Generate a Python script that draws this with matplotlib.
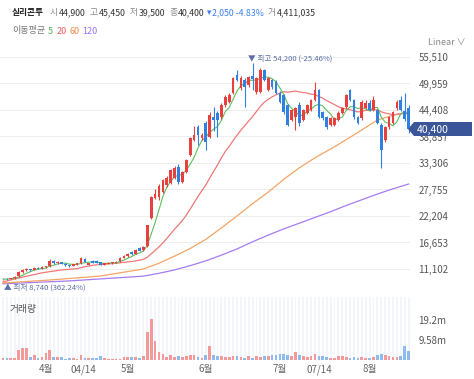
import numpy as np
import pandas as pd
import matplotlib
matplotlib.use('Agg')
import matplotlib.pyplot as plt
from matplotlib.patches import Polygon

# 일봉 데이터
opens = [8900, 9000, 8950, 9200, 9600, 10500, 10900, 11000, 10900, 11400,
         11200, 11500, 11700, 12700, 12300, 12500, 12200, 11900, 11800, 12000,
         12300, 13200, 12000, 12700, 12800, 12500, 12000, 12200, 12300, 12400,
         12700, 13500, 13800, 14600, 14300, 15600, 15000, 15900, 21800, 26000,
         26200, 27200, 28700, 29100, 30100, 32500, 29300, 31400, 35000, 38100,
         40800, 38500, 41700, 38750, 43000, 43800, 42900, 45400, 46100, 48000,
         51700, 49000, 50700, 49600, 51500, 48200, 48200, 52700, 48600, 50700,
         50300, 48000, 47500, 45400, 42300, 42900, 45500, 42300, 43800, 44400,
         46500, 48600, 44000, 42900, 41300, 41300, 42300, 43800, 45000, 48600,
         46500, 42900, 42700, 44900, 45900, 44400, 44400, 41300, 38100, 40800,
         41700, 44800, 46500, 44200, 44900]
highs = [9100, 9150, 9300, 9700, 10600, 11200, 11300, 11200, 11600, 11600,
         11700, 11800, 13200, 12900, 12700, 12600, 12300, 12000, 12200, 12400,
         13600, 13300, 12400, 12900, 13000, 12600, 12400, 12500, 12600, 12700,
         13700, 14100, 14500, 14800, 15200, 15800, 16000, 20400, 26400, 27900,
         28900, 30000, 30500, 32000, 32600, 33000, 31700, 34200, 38800, 41000,
         41200, 39600, 42200, 44000, 45000, 44300, 45800, 47500, 47900, 51400,
         52700, 51500, 51200, 51600, 54200, 51400, 53300, 53100, 51400, 51000,
         50600, 48300, 47800, 45700, 44700, 45100, 46100, 44700, 45700, 46800,
         50200, 48900, 44300, 43200, 43000, 43000, 44100, 45100, 47800, 48900,
         46800, 43200, 46400, 46500, 46400, 47300, 44700, 41600, 41100, 43200,
         44300, 46400, 47400, 47900, 45450]
lows = [8740, 8850, 8900, 9100, 9500, 10300, 10700, 10600, 10800, 11000,
        11100, 11300, 11600, 12200, 12100, 12100, 11800, 11600, 11700, 11900,
        12200, 12500, 11900, 12300, 12300, 11900, 11900, 12100, 12200, 12300,
        12600, 13400, 13700, 14100, 14200, 14800, 14900, 15800, 21500, 25800,
        25500, 27000, 28300, 28900, 29900, 29000, 29100, 31200, 34800, 37900,
        37000, 38200, 36000, 38500, 40000, 38700, 42600, 45100, 45800, 47800,
        50400, 48700, 45000, 49300, 48500, 47800, 48000, 50400, 48300, 48900,
        47700, 45800, 43600, 41000, 42000, 40200, 41000, 42000, 43500, 44100,
        46200, 42700, 42400, 40500, 41000, 41000, 42000, 43500, 44700, 46200,
        42600, 41400, 42400, 44600, 44100, 44100, 41400, 32200, 37800, 40500,
        41400, 44500, 44100, 42000, 39500]
closes = [9000, 8950, 9200, 9500, 10400, 10900, 11000, 10800, 11400, 11200,
          11500, 11700, 12800, 12300, 12500, 12200, 11900, 11700, 12100, 12300,
          13400, 12600, 12300, 12400, 12400, 12000, 12300, 12400, 12500, 12600,
          13500, 13900, 14300, 14200, 15000, 14900, 15800, 20300, 26200, 26800,
          28500, 29700, 30200, 31800, 32300, 29300, 31400, 33900, 38500, 39200,
          39200, 39200, 37700, 43400, 42300, 42300, 45400, 47100, 47500, 51100,
          50700, 51100, 49200, 51300, 50800, 51100, 52700, 50700, 51100, 49200,
          48000, 46100, 43900, 41300, 44400, 44800, 41700, 44400, 45400, 46500,
          48600, 43000, 42700, 40800, 42700, 42700, 43800, 44800, 47500, 46500,
          42900, 41700, 46100, 45900, 44400, 46500, 41700, 36000, 40800, 42900,
          44000, 46100, 44400, 42450, 40400]
# 거래량 (백만 주)
volumes = [0.8, 0.8, 0.9, 1.0, 4.8, 5.8, 5.8, 1.5, 2.3, 1.0,
           1.5, 3.4, 5.0, 1.2, 1.2, 1.2, 0.5, 1.0, 1.0, 0.6,
           2.6, 1.1, 1.1, 1.1, 1.1, 2.0, 1.1, 0.6, 0.3, 0.6,
           0.6, 1.5, 1.5, 1.5, 1.5, 1.0, 1.7, 13.5, 19.5, 9.0,
           3.7, 3.0, 1.5, 2.3, 1.5, 2.0, 1.2, 2.0, 2.5, 2.3,
           1.5, 1.0, 2.6, 6.6, 2.6, 1.8, 1.8, 1.6, 1.6, 1.8,
           1.8, 1.6, 0.8, 2.0, 0.8, 2.0, 1.6, 1.8, 2.0, 2.4,
           2.5, 2.7, 2.9, 2.4, 1.8, 3.7, 2.4, 1.8, 1.5, 1.8,
           2.9, 2.0, 1.7, 1.5, 0.8, 0.8, 1.7, 1.7, 1.3, 0.8,
           1.5, 0.8, 1.5, 0.8, 0.8, 1.5, 2.2, 2.9, 2.2, 1.8,
           1.5, 1.5, 1.8, 6.7, 4.411035]

# 이동평균선: 앞부분은 차트에서 읽은 값(봉 번호, 가격)
ma20_early_idx = [0, 5, 10, 15, 18]
ma20_early_val = [8400, 9400, 10300, 10900, 11100]
ma60_idx = [0, 12, 25, 36, 40, 44, 48, 52, 56, 60, 64, 68, 72, 76, 80, 85, 90, 96, 100, 104]
ma60_val = [8160, 8790, 9630, 11100, 12300, 13800, 15400, 17300, 19700, 22200, 24800, 27200,
            29900, 32300, 34400, 36700, 39200, 42300, 43300, 44000]
ma120_idx = [0, 17, 36, 40, 44, 48, 52, 56, 60, 64, 68, 72, 76, 80, 84, 88, 92, 96, 100, 104]
ma120_val = [8000, 8600, 9600, 10200, 10900, 11800, 12800, 14000, 15300, 16800, 18200, 19500,
             20700, 21900, 23100, 24400, 25600, 26800, 27900, 28900]

price_ticks = [11102, 16653, 22204, 27755, 33306, 38857, 44408, 49959, 55510]
vol_ticks = [9.58, 19.2]
vol_tick_labels = ['9.58m', '19.2m']
date_pos = [11, 20.5, 32, 52, 71, 81, 94]
date_labels = ['4월', '04/14', '5월', '6월', '7월', '07/14', '8월']

name = '실리콘투'
prev_close = 42450
last_volume = 4411035

plt.rcParams['font.family'] = ['Noto Sans CJK KR', 'DejaVu Sans']

RED = '#e8403e'
BLUE = '#2f80e0'
W, H = 474, 379
fig = plt.figure(figsize=(W / 100, H / 100), dpi=100)
renderer = fig.canvas.get_renderer()


def box(l, t, r, b):
    return fig.add_axes([l / W, 1 - b / H, (r - l) / W, (b - t) / H])


def ftext(x, y, s, **kw):
    return fig.text(x / W, 1 - y / H, s, va='center', **kw)


def row(x, y, pieces, size):
    # 텍스트 조각을 왼쪽부터 차례로 배치
    for s, col, gap, weight in pieces:
        t = ftext(x, y, s, fontsize=size, color=col, fontweight=weight)
        x += t.get_window_extent(renderer).width + gap


o = np.array(opens)
h = np.array(highs)
l = np.array(lows)
c = np.array(closes)
v = np.array(volumes)
idx = np.arange(len(c))
up = c >= o
cols = np.where(up, RED, BLUE)

# 가격 차트
ax = box(0, 45, 410, 290)
ax.set_xlim(-0.77, 104.36)
ax.set_ylim(6697, 58024)
ax.set_yticks(price_ticks)
ax.set_yticklabels([f'{t:,}' for t in price_ticks])
ax.yaxis.tick_right()
ax.tick_params(axis='y', length=0, pad=6, labelsize=7, labelcolor='#555555')
ax.set_xticks([])
ax.grid(axis='y', color='#eeeeee', lw=0.7)
ax.set_axisbelow(True)
for s in ax.spines.values():
    s.set_visible(False)

ma20 = pd.Series(c).rolling(20).mean()
ma20_x = ma20_early_idx + list(idx[19:])
ma20_y = ma20_early_val + list(ma20[19:])
ma5 = pd.Series(c).rolling(5, min_periods=1).mean()
ax.plot(ma120_idx, ma120_val, color='#a47cf0', lw=0.9)
ax.plot(ma60_idx, ma60_val, color='#f5a564', lw=0.9)
ax.plot(ma20_x, ma20_y, color='#f07878', lw=0.9)
ax.plot(idx, ma5, color='#5cbf5c', lw=0.8, zorder=3)

ax.vlines(idx, l, h, colors=cols, lw=0.8, zorder=4)
ax.bar(idx, np.maximum(np.abs(c - o), 150), bottom=np.minimum(o, c), width=0.7,
       color=cols, zorder=5)

# 최고/최저 표시
hi = int(np.argmax(h))
lo = int(np.argmin(l))
last = c[-1]
ax.annotate(f'▼ 최고 {h[hi]:,} ({(last - h[hi]) / h[hi] * 100:.2f}%)', xy=(hi, h[hi]),
            xytext=(-3, 0.5), textcoords='offset points', ha='left', va='bottom',
            fontsize=5.5, color='#5a6ea8')
ax.annotate(f'▲ 최저 {l[lo]:,} ({(last - l[lo]) / l[lo] * 100:.2f}%)', xy=(lo, l[lo]),
            xytext=(1, -2.5), textcoords='offset points', ha='left', va='top',
            fontsize=5.5, color='#5a6ea8')

# 거래량
axv = box(0, 297, 410, 360)
axv.set_xlim(-0.77, 104.36)
axv.set_ylim(0, 30.2)
axv.bar(idx, np.full(len(idx), 30.2), width=0.5, color='#f2f5fa', zorder=0)
vcols = np.where(up, '#f29a9a', '#8dbbf0')
axv.bar(idx, v, width=0.7, color=vcols, zorder=2)
axv.set_yticks(vol_ticks)
axv.set_yticklabels(vol_tick_labels)
axv.yaxis.tick_right()
axv.tick_params(axis='y', length=0, pad=6, labelsize=7, labelcolor='#555555')
axv.set_xticks(date_pos)
axv.set_xticklabels(date_labels)
axv.tick_params(axis='x', length=0, pad=3, labelsize=7, labelcolor='#666666')
for s in axv.spines.values():
    s.set_visible(False)
ftext(10, 309, '거래량', fontsize=7, color='#555555')

# 현재가 표시
pts = [(408, 129), (414, 122), (472, 122), (472, 136), (414, 136)]
fig.add_artist(Polygon([(x / W, 1 - y / H) for x, y in pts], closed=True,
                       transform=fig.transFigure, facecolor='#3b5698', edgecolor='none', zorder=10))
ftext(417, 129.5, f'{last:,}', fontsize=7.5, color='white', zorder=11)

# 상단 정보
chg = last - prev_close
gray, dark, blue = '#888888', '#333333', '#3d7ff0'
row(12, 13, [(name, '#222222', 6, 'bold'),
             ('시', gray, 1, 'normal'), (f'{o[-1]:,}', dark, 4, 'normal'),
             ('고', gray, 1, 'normal'), (f'{h[-1]:,}', dark, 4, 'normal'),
             ('저', gray, 1, 'normal'), (f'{l[-1]:,}', dark, 4, 'normal'),
             ('종', gray, 1, 'normal'), (f'{last:,}', dark, 2, 'normal'),
             ('▾', blue, 1, 'normal'), (f'{abs(chg):,} {chg / prev_close * 100:.2f}%', blue, 4, 'normal'),
             ('거', gray, 1, 'normal'), (f'{last_volume:,}', dark, 0, 'normal')], 6.3)
row(12, 31, [('이동평균', '#777777', 3, 'normal'), ('5', '#4caf50', 3, 'normal'),
             ('20', '#ef5b5b', 3, 'normal'), ('60', '#f08c4a', 3, 'normal'),
             ('120', '#9a70ee', 0, 'normal')], 6.5)
ftext(428, 42, 'Linear ∨', fontsize=6.5, color='#888888')

fig.savefig('out.png', dpi=100)
